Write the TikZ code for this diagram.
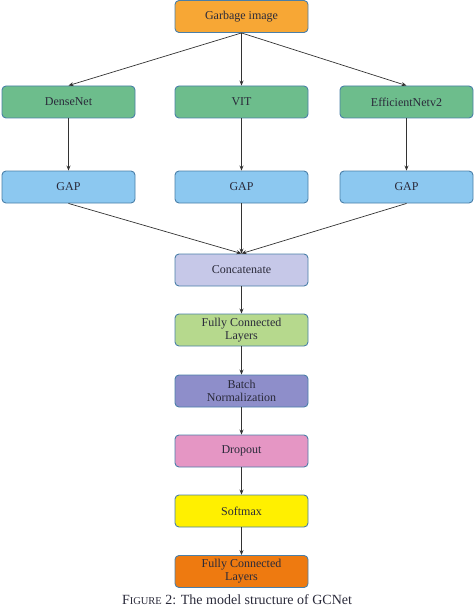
\documentclass[tikz,border=0pt]{standalone}
\usepackage{fontspec}
\setmainfont{Liberation Serif}
\usetikzlibrary{arrows.meta}
\definecolor{bordc}{HTML}{4A7FA8}
\definecolor{cOrange}{HTML}{F7A735}
\definecolor{cGreen}{HTML}{6DBD8C}
\definecolor{cBlue}{HTML}{8CC8F0}
\definecolor{cLav}{HTML}{C6C8E8}
\definecolor{cLime}{HTML}{B6D98D}
\definecolor{cPurp}{HTML}{8E8ECA}
\definecolor{cPink}{HTML}{E596C4}
\definecolor{cYel}{HTML}{FFF000}
\definecolor{cDOr}{HTML}{EE7A10}
\definecolor{txt}{HTML}{2A2A3A}
\begin{document}
\begin{tikzpicture}[x=1pt,y=-1pt,
  box/.style={draw=bordc,line width=0.9pt,rounded corners=4pt,minimum width=133pt,minimum height=32pt,
    inner sep=0pt,align=center,font=\fontsize{12}{13}\selectfont,text=txt},
  arr/.style={draw=black!80,line width=0.7pt,-{Stealth[length=5pt,width=4pt]}}]
\useasboundingbox (0,0) rectangle (474,607);
\node[box,fill=cOrange] (gi) at (241.5,16.5) {Garbage image};
\node[box,fill=cGreen] (dn) at (68.5,102) {DenseNet};
\node[box,fill=cGreen] (vit) at (241.5,102) {VIT};
\node[box,fill=cGreen] (en) at (406.5,102) {EfficientNetv2};
\node[box,fill=cBlue] (g1) at (68.5,187) {GAP};
\node[box,fill=cBlue] (g2) at (241.5,187) {GAP};
\node[box,fill=cBlue] (g3) at (406.5,187) {GAP};
\node[box,fill=cLav] (cc) at (241.5,270) {Concatenate};
\node[box,fill=cLime] (fc1) at (241.5,330) {Fully Connected\\Layers};
\node[box,fill=cPurp] (bn) at (241.5,391) {Batch\\Normalization};
\node[box,fill=cPink] (dr) at (241.5,451) {Dropout};
\node[box,fill=cYel] (sm) at (241.5,511) {Softmax};
\node[box,fill=cDOr] (fc2) at (241.5,571.5) {Fully Connected\\Layers};
\node[anchor=base,font=\fontsize{14}{15}\selectfont,text=txt] (cap) at (237,604.5) {F{\fontsize{10.5}{11}\selectfont IGURE} 2: The model structure of GCNet};
\draw[arr] (gi.south) -- (dn.north);
\draw[arr] (gi.south) -- (vit.north);
\draw[arr] (gi.south) -- (en.north);
\draw[arr] (dn) -- (g1);
\draw[arr] (vit) -- (g2);
\draw[arr] (en) -- (g3);
\draw[arr] (g1.south) -- (cc.north);
\draw[arr] (g2.south) -- (cc.north);
\draw[arr] (g3.south) -- (cc.north);
\draw[arr] (cc) -- (fc1);
\draw[arr] (fc1) -- (bn);
\draw[arr] (bn) -- (dr);
\draw[arr] (dr) -- (sm);
\draw[arr] (sm) -- (fc2);
\end{tikzpicture}
\end{document}
